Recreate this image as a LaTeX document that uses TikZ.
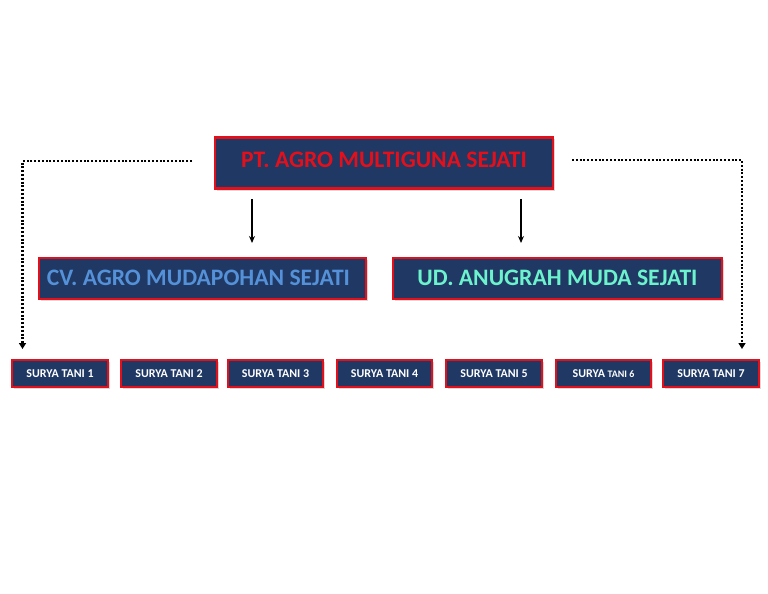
\documentclass[tikz,border=0pt]{standalone}
\usepackage{fontspec}
\setmainfont{Carlito}
\usetikzlibrary{shadows,arrows.meta}
\definecolor{navy}{HTML}{1F3864}
\definecolor{bred}{HTML}{E3101B}
\definecolor{cvblue}{HTML}{5591D8}
\definecolor{udaqua}{HTML}{6CF2CC}
\begin{document}
\begin{tikzpicture}[x=1bp,y=-1bp,
  box/.style={draw=bred,fill=navy,line width=2.6bp,inner sep=0pt,
    drop shadow={shadow xshift=2bp,shadow yshift=-2bp,opacity=0.3}},
  bigbox/.style={box,font=\bfseries\fontsize{23.7}{28}\selectfont},
  smallbox/.style={box,text=white,font=\bfseries\fontsize{12}{14}\selectfont},
  solidarrow/.style={line width=1.3bp,-{Stealth[length=7bp,width=6bp]}},
  dotarrow/.style={line width=2.2bp,dash pattern=on 2bp off 1.8bp,-{Triangle[length=6bp,width=7bp]}}]
\useasboundingbox (0,0) rectangle (768,594);
\node[bigbox,text=bred,minimum width=338bp,minimum height=51bp] (pt) at (384,163) {\raisebox{6bp}{PT. AGRO MULTIGUNA SEJATI}};
\node[bigbox,text=cvblue,minimum width=327bp,minimum height=41bp] (cv) at (202.5,278.5) {\raisebox{2bp}{CV. AGRO MUDAPOHAN SEJATI}\hspace*{8bp}};
\node[bigbox,text=udaqua,minimum width=329bp,minimum height=41bp] (ud) at (557.5,278.5) {\raisebox{2bp}{UD. ANUGRAH MUDA SEJATI}};
\foreach \i/\a/\b in {1/12/108,2/121/217,3/228/323,4/337/432,5/446/542,7/663/759}{
  \node[smallbox,minimum width=\b-\a,minimum height=27bp] (s\i) at ({(\a+\b)/2},373.5) {SURYA TANI \i};
}
\node[smallbox,minimum width=95bp,minimum height=27bp] (s6) at (603.5,373.5) {SURYA {\fontsize{10}{12}\selectfont TANI 6}};
\coordinate (la) at (192,161);
\coordinate (lb) at (22.5,161);
\coordinate (lend) at (22.5,349);
\coordinate (ra) at (572,160);
\coordinate (rb) at (742,160);
\coordinate (rend) at (742,349);
\draw[dotarrow] (la) -- (lb) -- (lend);
\draw[dotarrow] (ra) -- (rb) -- (rend);
\coordinate (a1) at (252,199);
\coordinate (b1) at (252,243);
\coordinate (a2) at (521,199);
\coordinate (b2) at (521,243);
\draw[solidarrow] (a1) -- (b1);
\draw[solidarrow] (a2) -- (b2);
\end{tikzpicture}
\end{document}
